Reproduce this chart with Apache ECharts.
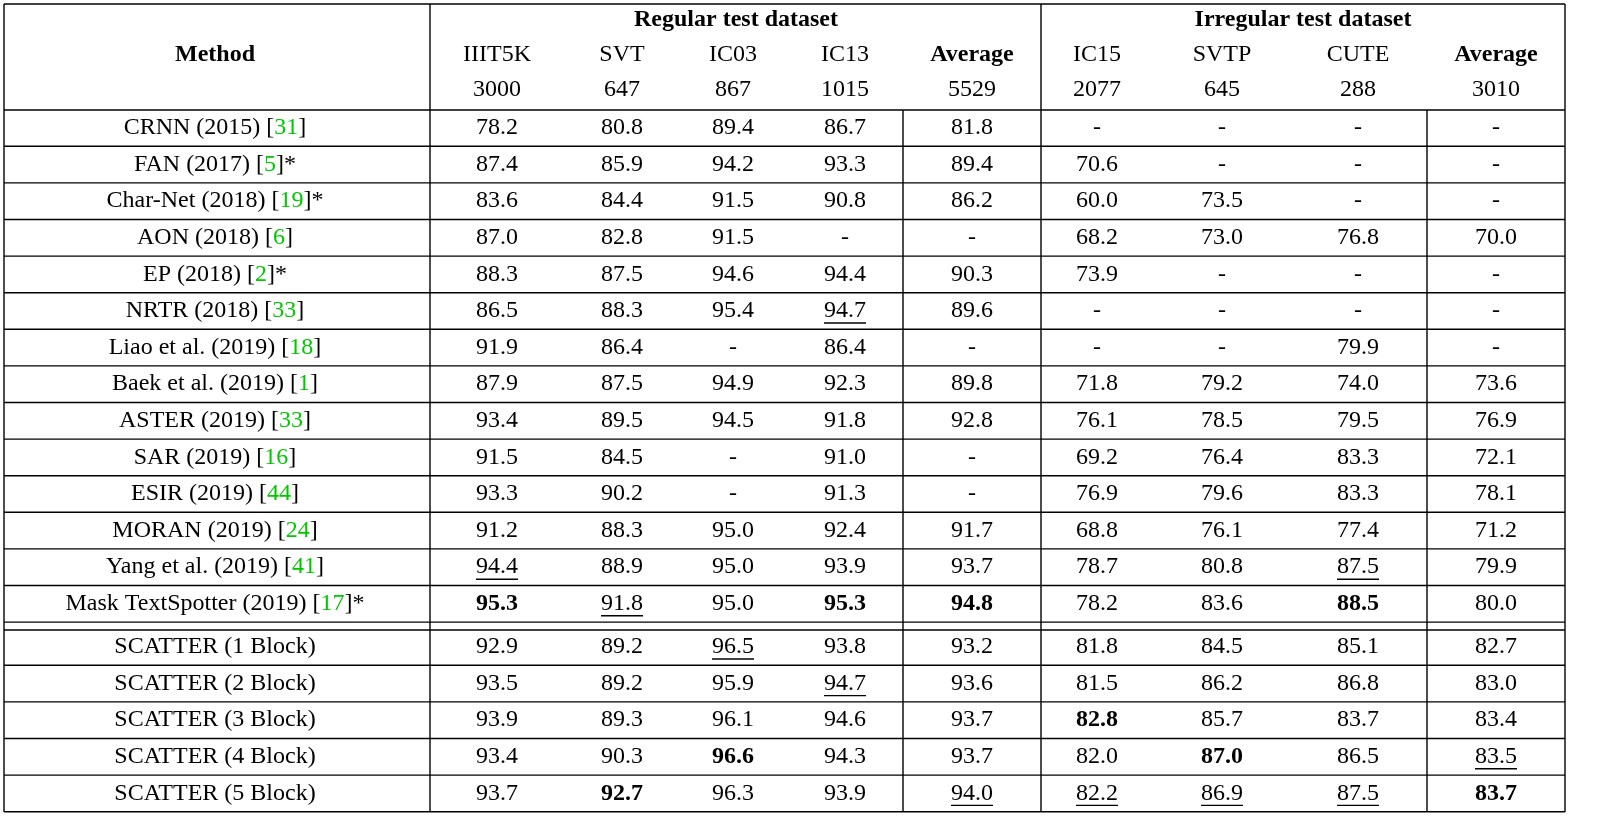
<!DOCTYPE html>
<html><head><meta charset="utf-8">
<script src="https://cdn.jsdelivr.net/npm/echarts@6/dist/echarts.min.js"></script>
<style>html,body{margin:0;padding:0;background:#fff;overflow:hidden}#c{width:100vw;height:100vh}</style>
</head><body><div id="c"></div>
<script>
const columns = ['IIIT5K','SVT','IC03','IC13','Average','IC15','SVTP','CUTE','Average'];
const counts = ['3000','647','867','1015','5529','2077','645','288','3010'];
const groups = ['Regular test dataset','Irregular test dataset'];
const methods = [
 ['CRNN (2015) [','31',']'],['FAN (2017) [','5',']*'],['Char-Net (2018) [','19',']*'],
 ['AON (2018) [','6',']'],['EP (2018) [','2',']*'],['NRTR (2018) [','33',']'],
 ['Liao et al. (2019) [','18',']'],['Baek et al. (2019) [','1',']'],['ASTER (2019) [','33',']'],
 ['SAR (2019) [','16',']'],['ESIR (2019) [','44',']'],['MORAN (2019) [','24',']'],
 ['Yang et al. (2019) [','41',']'],['Mask TextSpotter (2019) [','17',']*'],
 ['SCATTER (1 Block)','',''],['SCATTER (2 Block)','',''],['SCATTER (3 Block)','',''],
 ['SCATTER (4 Block)','',''],['SCATTER (5 Block)','','']
];
const values = [
 ['78.2','80.8','89.4','86.7','81.8','-','-','-','-'],
 ['87.4','85.9','94.2','93.3','89.4','70.6','-','-','-'],
 ['83.6','84.4','91.5','90.8','86.2','60.0','73.5','-','-'],
 ['87.0','82.8','91.5','-','-','68.2','73.0','76.8','70.0'],
 ['88.3','87.5','94.6','94.4','90.3','73.9','-','-','-'],
 ['86.5','88.3','95.4','_94.7_','89.6','-','-','-','-'],
 ['91.9','86.4','-','86.4','-','-','-','79.9','-'],
 ['87.9','87.5','94.9','92.3','89.8','71.8','79.2','74.0','73.6'],
 ['93.4','89.5','94.5','91.8','92.8','76.1','78.5','79.5','76.9'],
 ['91.5','84.5','-','91.0','-','69.2','76.4','83.3','72.1'],
 ['93.3','90.2','-','91.3','-','76.9','79.6','83.3','78.1'],
 ['91.2','88.3','95.0','92.4','91.7','68.8','76.1','77.4','71.2'],
 ['_94.4_','88.9','95.0','93.9','93.7','78.7','80.8','_87.5_','79.9'],
 ['**95.3**','_91.8_','95.0','**95.3**','**94.8**','78.2','83.6','**88.5**','80.0'],
 ['92.9','89.2','_96.5_','93.8','93.2','81.8','84.5','85.1','82.7'],
 ['93.5','89.2','95.9','_94.7_','93.6','81.5','86.2','86.8','83.0'],
 ['93.9','89.3','96.1','94.6','93.7','**82.8**','85.7','83.7','83.4'],
 ['93.4','90.3','**96.6**','94.3','93.7','82.0','**87.0**','86.5','_83.5_'],
 ['93.7','**92.7**','96.3','93.9','_94.0_','_82.2_','_86.9_','_87.5_','**83.7**']
];

const colX = [215,497,622,733,845,972,1097,1222,1358,1496];
const rowY = i => i < 14 ? 128 + i*36.6 : 647 + (i-14)*36.6;
const SC = (window.innerWidth || 1609) / 1609;
const FONT = 'Liberation Serif', FS = 24*SC;
const cv = document.createElement('canvas').getContext('2d');
function tw(t, bold){ cv.font = (bold?'bold ':'')+FS+'px "'+FONT+'"'; return cv.measureText(t).width; }

const cells = [];
methods.forEach((m,i)=>cells.push({kind:'method', col:0, row:i, m}));
values.forEach((r,i)=>r.forEach((v,j)=>cells.push({kind:'val', col:j+1, row:i, v})));

const hLines = [4,110];
for(let i=0;i<14;i++) hLines.push(rowY(i)+18.3);
hLines.push(630);
for(let i=14;i<19;i++) hLines.push(rowY(i)+18.3);
const lineSegs = [];
hLines.forEach(y=>lineSegs.push([4,y,1565,y]));
[4,430,1041,1565].forEach(x=>lineSegs.push([x,4,x,812]));
[903,1427].forEach(x=>lineSegs.push([x,110,x,812]));

const chart = echarts.init(document.getElementById('c'));
const txt = (x,y,t,bold) => ({type:'text', style:{x,y,text:t,font:(bold?'bold ':'')+FS+'px "'+FONT+'"',fill:'#000',align:'center',verticalAlign:'middle'}});

chart.setOption({
 animation:false,
 grid:{left:0,right:0,top:0,bottom:0},
 xAxis:{type:'value',min:0,max:1609,show:false},
 yAxis:{type:'value',min:0,max:838,inverse:true,show:false},
 series:[
  {type:'custom', data:lineSegs, renderItem:(p,api)=>{
    const a=api.coord([api.value(0),api.value(1)]), b=api.coord([api.value(2),api.value(3)]);
    return {type:'line',shape:{x1:a[0],y1:a[1],x2:b[0],y2:b[1]},style:{stroke:'#000',lineWidth:1.4}};
  }},
  {type:'custom', data:[0], renderItem:(p,api)=>{
    const ch=[];
    const g=api.coord([736,20]); ch.push(txt(g[0],g[1],groups[0],true));
    const g2=api.coord([1303,20]); ch.push(txt(g2[0],g2[1],groups[1],true));
    const mm=api.coord([215,55]); ch.push(txt(mm[0],mm[1],'Method',true));
    columns.forEach((c,j)=>{
      const a=api.coord([colX[j+1],55]), b=api.coord([colX[j+1],90]);
      ch.push(txt(a[0],a[1],c,c==='Average'));
      ch.push(txt(b[0],b[1],counts[j],false));
    });
    return {type:'group',children:ch};
  }},
  {type:'custom', data:cells.map((c,i)=>[c.col,c.row,i]), renderItem:(p,api)=>{
    const c=cells[api.value(2)];
    const pt=api.coord([colX[c.col], rowY(c.row)]);
    if(c.kind==='method'){
      const [a,g,b]=c.m;
      const w1=tw(a),w2=tw(g),w3=tw(b), W=w1+w2+w3;
      let x=pt[0]-W/2;
      const ch=[];
      [[a,'#000',w1],[g,'#00c800',w2],[b,'#000',w3]].forEach(([t,col,w])=>{
        if(t) ch.push({type:'text',style:{x,y:pt[1],text:t,font:FS+'px "'+FONT+'"',fill:col,align:'left',verticalAlign:'middle'}});
        x+=w;
      });
      return {type:'group',children:ch};
    }
    let v=c.v, bold=false, ul=false;
    if(v.startsWith('**')){bold=true; v=v.slice(2,-2);}
    else if(v.startsWith('_')){ul=true; v=v.slice(1,-1);}
    const ch=[txt(pt[0],pt[1],v,bold)];
    if(ul){ const w=tw(v,bold); ch.push({type:'line',shape:{x1:pt[0]-w/2,y1:pt[1]+12*SC,x2:pt[0]+w/2,y2:pt[1]+12*SC},style:{stroke:'#000',lineWidth:1.4}}); }
    return {type:'group',children:ch};
  }}
 ]
});
</script></body></html>
